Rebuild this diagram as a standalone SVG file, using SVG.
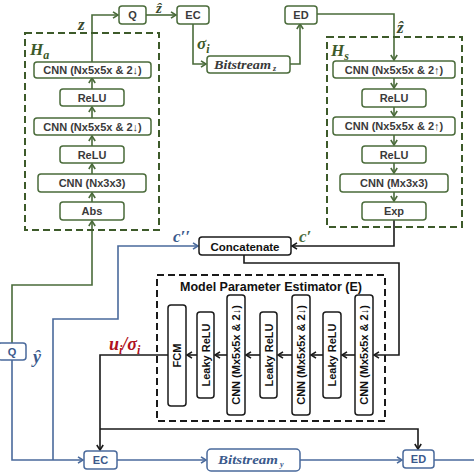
<svg xmlns="http://www.w3.org/2000/svg" width="474" height="474" viewBox="0 0 474 474">
<style>
.g{stroke:#4a6b3a;fill:none;stroke-width:1.6}
.b{stroke:#4a6a9c;fill:none;stroke-width:1.6}
.k{stroke:#1a1a1a;fill:none;stroke-width:1.6}
.gb{fill:#fff;stroke:#4a6b3a;stroke-width:1.5}
.bb{fill:#fff;stroke:#4a6a9c;stroke-width:1.5}
.kb{fill:#fff;stroke:#1a1a1a;stroke-width:1.5}
.dg{fill:none;stroke:#3d5a2a;stroke-width:2;stroke-dasharray:7,4}
.dk{fill:none;stroke:#1a1a1a;stroke-width:2;stroke-dasharray:7,4}
.t{font-family:"Liberation Sans",Arial,sans-serif;font-weight:bold;font-size:11px;fill:#3a3a3a;text-anchor:middle}
.tb{fill:#3b5a8c}
.tk{fill:#111}
.m{font-family:"Liberation Serif","DejaVu Serif",serif;font-weight:bold;font-style:italic;font-size:17px}
</style>
<defs>
<marker id="ag" markerWidth="8" markerHeight="8" refX="6" refY="4" orient="auto" markerUnits="userSpaceOnUse"><path d="M1,0.8 L6,4 L1,7.2" fill="none" stroke="#4a6b3a" stroke-width="1.6"/></marker>
<marker id="ab" markerWidth="8" markerHeight="8" refX="6" refY="4" orient="auto" markerUnits="userSpaceOnUse"><path d="M1,0.8 L6,4 L1,7.2" fill="none" stroke="#4a6a9c" stroke-width="1.6"/></marker>
<marker id="ak" markerWidth="8" markerHeight="8" refX="6" refY="4" orient="auto" markerUnits="userSpaceOnUse"><path d="M1,0.8 L6,4 L1,7.2" fill="none" stroke="#1a1a1a" stroke-width="1.6"/></marker>
</defs>

<g id="connectors">
<path class="g" d="M92,230 V221" marker-end="url(#ag)"/>
<path class="g" d="M92,202 V193" marker-end="url(#ag)"/>
<path class="g" d="M92,174 V164" marker-end="url(#ag)"/>
<path class="g" d="M92,146 V136" marker-end="url(#ag)"/>
<path class="g" d="M92,118 V107" marker-end="url(#ag)"/>
<path class="g" d="M92,89 V78" marker-end="url(#ag)"/>
<path class="g" d="M92,62 V15 H118" marker-end="url(#ag)"/>
<path class="g" d="M146,15 H176" marker-end="url(#ag)"/>
<path class="g" d="M193,24 V64 H206" marker-end="url(#ag)"/>
<path class="g" d="M290,64 H300 V24" marker-end="url(#ag)"/>
<path class="g" d="M317,14 H394 V60" marker-end="url(#ag)"/>
<path class="g" d="M394,78 V88" marker-end="url(#ag)"/>
<path class="g" d="M394,107 V116" marker-end="url(#ag)"/>
<path class="g" d="M394,135 V145" marker-end="url(#ag)"/>
<path class="g" d="M394,163 V173" marker-end="url(#ag)"/>
<path class="g" d="M394,192 V201" marker-end="url(#ag)"/>
<path class="k" d="M394,220 V246 H292" marker-end="url(#ak)"/>
<path class="g" d="M12,343 V285 H92 V230"/>
<path class="k" d="M244,255 V263 H399 V355 H374" marker-end="url(#ak)"/>
<path class="k" d="M355,355 H342" marker-end="url(#ak)"/>
<path class="k" d="M323,355 H311" marker-end="url(#ak)"/>
<path class="k" d="M292,355 H278" marker-end="url(#ak)"/>
<path class="k" d="M260,355 H246" marker-end="url(#ak)"/>
<path class="k" d="M227,355 H215" marker-end="url(#ak)"/>
<path class="k" d="M197,355 H187" marker-end="url(#ak)"/>
<path class="k" d="M168,355 H100 V450" marker-end="url(#ak)"/>
<path class="k" d="M100,429 H418 V449" marker-end="url(#ak)"/>
<path class="b" d="M12,360 V460 H83" marker-end="url(#ab)"/>
<path class="b" d="M53,460 V319 H118 V246 H198" marker-end="url(#ab)"/>
<path class="b" d="M117,460 H206" marker-end="url(#ab)"/>
<path class="b" d="M300,460 H402" marker-end="url(#ab)"/>
<path class="b" d="M434,460 H474"/>
</g>

<g id="Ha">
<rect class="dg" x="25" y="33" width="134" height="197"/>
<text class="m" x="30" y="55" fill="#3d5a2a">H<tspan style="font-size:12px" dy="4">a</tspan></text>
</g>
<g id="ha-cnn1"><rect class="gb" x="34" y="62" width="117" height="16" rx="3"/><text class="t" x="92.5" y="74">CNN (Nx5x5x &amp; 2↓)</text></g>
<g id="ha-relu1"><rect class="gb" x="60" y="89" width="64" height="17" rx="3"/><text class="t" x="92" y="101.5">ReLU</text></g>
<g id="ha-cnn2"><rect class="gb" x="34" y="118" width="117" height="17" rx="3"/><text class="t" x="92.5" y="130.5">CNN (Nx5x5x &amp; 2↓)</text></g>
<g id="ha-relu2"><rect class="gb" x="60" y="146" width="64" height="17" rx="3"/><text class="t" x="92" y="158.5">ReLU</text></g>
<g id="ha-cnn3"><rect class="gb" x="38" y="174" width="108" height="18" rx="3"/><text class="t" x="92" y="187">CNN (Nx3x3)</text></g>
<g id="ha-abs"><rect class="gb" x="60" y="202" width="64" height="18" rx="3"/><text class="t" x="92" y="215">Abs</text></g>

<g id="Q1"><rect class="gb" x="119" y="6" width="27" height="18" rx="3"/><text class="t" x="132.5" y="19">Q</text></g>
<g id="EC1"><rect class="gb" x="177" y="6" width="32" height="18" rx="3"/><text class="t" x="193" y="19">EC</text></g>
<g id="ED1"><rect class="gb" x="285" y="6" width="32" height="18" rx="3"/><text class="t" x="301" y="19">ED</text></g>
<g id="bitz"><rect class="gb" x="207" y="56" width="83" height="17" rx="3"/><text class="m" x="214" y="68.5" style="font-size:11.5px" fill="#3a3a3a" textLength="57" lengthAdjust="spacingAndGlyphs">Bitstream</text><text class="m" x="273" y="71" style="font-size:8px" fill="#3a3a3a">z</text></g>

<g id="Hs">
<rect class="dg" x="327" y="37" width="135" height="190"/>
<text class="m" x="331" y="56" fill="#3d5a2a">H<tspan style="font-size:12px" dy="4">s</tspan></text>
</g>
<g id="hs-cnn1"><rect class="gb" x="333" y="61" width="122" height="17" rx="3"/><text class="t" x="394" y="73.5">CNN (Nx5x5x &amp; 2↑)</text></g>
<g id="hs-relu1"><rect class="gb" x="362" y="89" width="64" height="18" rx="3"/><text class="t" x="394" y="102">ReLU</text></g>
<g id="hs-cnn2"><rect class="gb" x="333" y="117" width="122" height="18" rx="3"/><text class="t" x="394" y="130">CNN (Nx5x5x &amp; 2↑)</text></g>
<g id="hs-relu2"><rect class="gb" x="362" y="146" width="64" height="17" rx="3"/><text class="t" x="394" y="158.5">ReLU</text></g>
<g id="hs-cnn3"><rect class="gb" x="340" y="174" width="108" height="18" rx="3"/><text class="t" x="394" y="187">CNN (Mx3x3)</text></g>
<g id="hs-exp"><rect class="gb" x="362" y="202" width="64" height="18" rx="3"/><text class="t" x="394" y="215">Exp</text></g>

<g id="concat"><rect class="kb" x="199" y="237" width="92" height="18" rx="3"/><text class="t tk" x="245" y="250.5" style="font-size:11.5px">Concatenate</text></g>

<g id="estimator">
<rect class="dk" x="157" y="275" width="228" height="146"/>
<text class="t tk" x="271" y="291" style="font-size:12.5px">Model Parameter Estimator (E)</text>
</g>
<g id="fcm"><rect class="kb" x="168" y="305" width="18" height="101" rx="3"/><text class="t tk" transform="translate(181,355.5) rotate(-90)">FCM</text></g>
<g id="lrelu1"><rect class="kb" x="197" y="312" width="17" height="86" rx="3"/><text class="t tk" transform="translate(209.5,355) rotate(-90)">Leaky ReLU</text></g>
<g id="cnn-e1"><rect class="kb" x="227" y="295" width="18" height="120" rx="3"/><text class="t tk" transform="translate(240,355) rotate(-90)">CNN (Mx5x5x &amp; 2↓)</text></g>
<g id="lrelu2"><rect class="kb" x="260" y="312" width="17" height="86" rx="3"/><text class="t tk" transform="translate(272.5,355) rotate(-90)">Leaky ReLU</text></g>
<g id="cnn-e2"><rect class="kb" x="292" y="295" width="18" height="120" rx="3"/><text class="t tk" transform="translate(305,355) rotate(-90)">CNN (Mx5x5x &amp; 2↓)</text></g>
<g id="lrelu3"><rect class="kb" x="323" y="312" width="18" height="86" rx="3"/><text class="t tk" transform="translate(336,355) rotate(-90)">Leaky ReLU</text></g>
<g id="cnn-e3"><rect class="kb" x="355" y="295" width="18" height="120" rx="3"/><text class="t tk" transform="translate(368,355) rotate(-90)">CNN (Mx5x5x &amp; 2↓)</text></g>

<g id="Q2"><rect class="bb" x="-2" y="343" width="28" height="17" rx="3"/><text class="t tb" x="12" y="355.5">Q</text></g>
<g id="EC2"><rect class="bb" x="84" y="451" width="33" height="18" rx="3"/><text class="t tb" x="100.5" y="464">EC</text></g>
<g id="bity"><rect class="bb" x="207" y="449" width="93" height="22" rx="4"/><text class="m" x="218" y="464" style="font-size:12px" fill="#3b5a8c" textLength="60" lengthAdjust="spacingAndGlyphs">Bitstream</text><text class="m" x="280" y="467" style="font-size:8px" fill="#3b5a8c">y</text></g>
<g id="ED2"><rect class="bb" x="403" y="450" width="31" height="18" rx="3"/><text class="t tb" x="418.5" y="463">ED</text></g>

<g id="labels">
<text class="m" x="78" y="30" fill="#3a4a30">z</text>
<text class="m" x="156" y="13" style="font-size:15px" fill="#3a4a30">ẑ</text>
<text class="m" x="197" y="49" fill="#3d5a2a">σ<tspan style="font-size:12px" dy="4">i</tspan></text>
<text class="m" x="397" y="33" fill="#3a4a30">ẑ</text>
<text class="m" x="173" y="242" fill="#3b5a8c">c′′</text>
<text class="m" x="299" y="242" fill="#4a6b3a">c′</text>
<text class="m" x="33" y="363" style="font-size:18px" fill="#3b5a8c">ŷ</text>
<text class="m" x="109" y="350" style="font-size:18px" fill="#b01020">u<tspan style="font-size:12px" dy="4">i</tspan><tspan dy="-4">/σ</tspan><tspan style="font-size:12px" dy="4">i</tspan></text>
</g>
</svg>
